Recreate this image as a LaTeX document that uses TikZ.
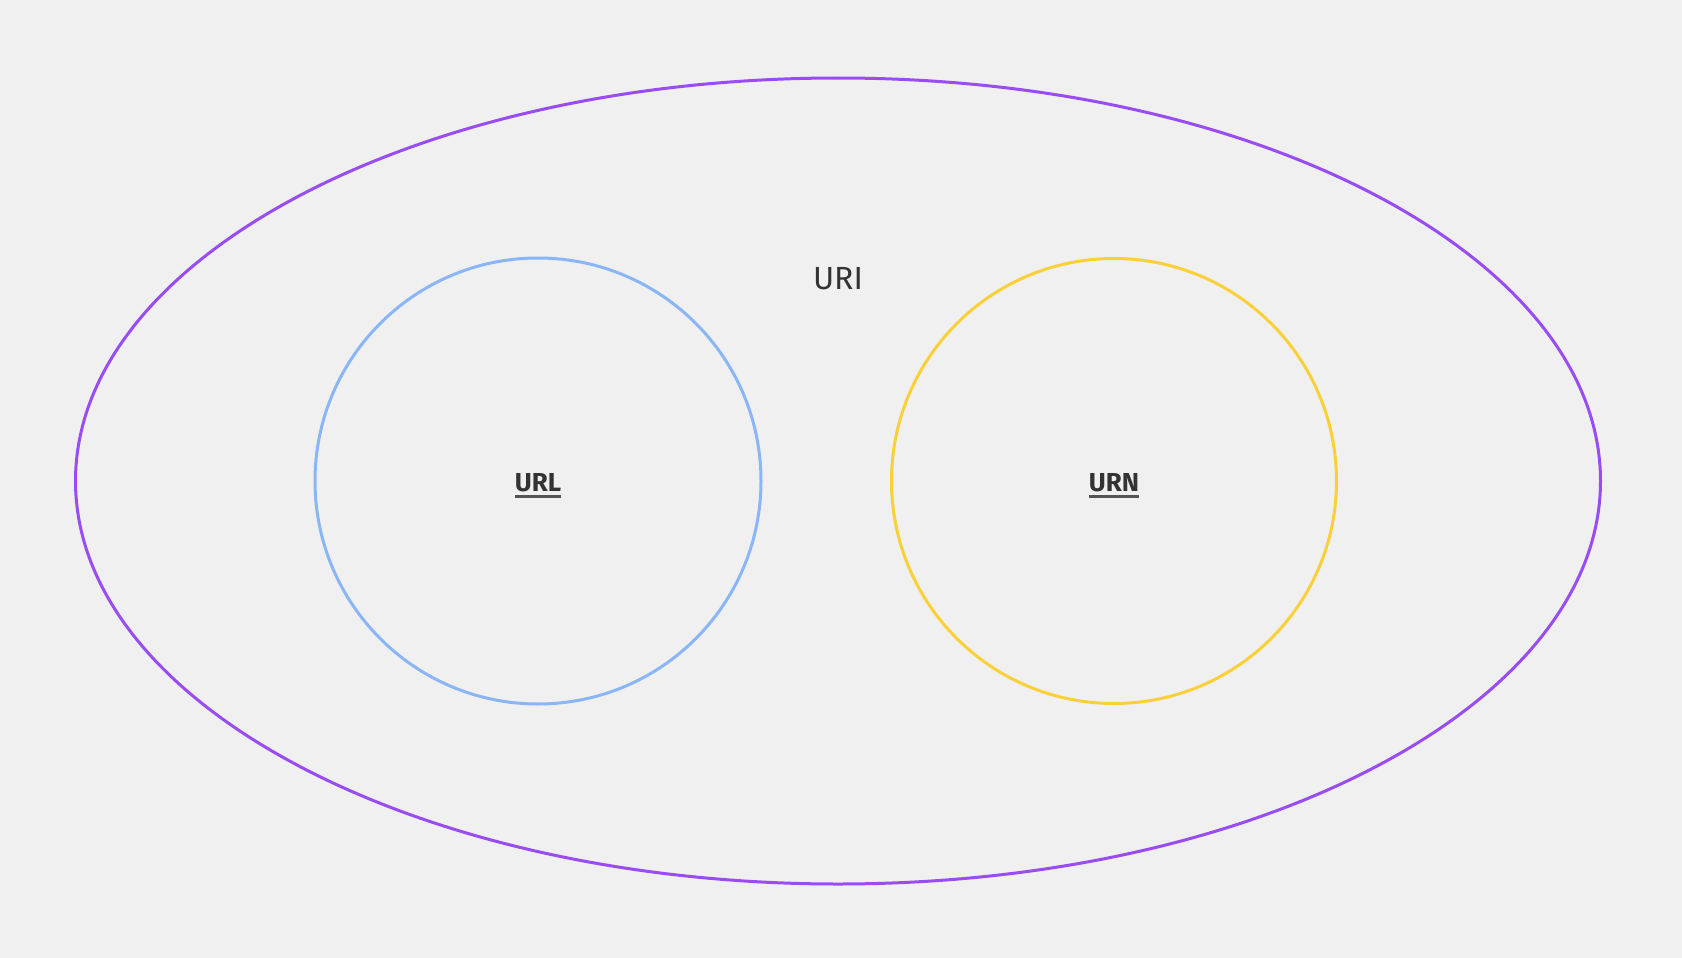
\documentclass[tikz,border=0pt]{standalone}
\usepackage{fontspec}
\setmainfont{Fira Sans}
\usepackage{tikz}
\usetikzlibrary{shapes.geometric, positioning, calc}
\definecolor{bgray}{RGB}{240, 240, 240}
\definecolor{uripurple}{RGB}{152, 76, 242}
\definecolor{urlblue}{RGB}{138, 182, 248}
\definecolor{urnyellow}{RGB}{250, 208, 56}
\definecolor{textdark}{RGB}{51, 51, 51}
\definecolor{linegray}{RGB}{85, 85, 85}

\begin{document}
\begin{tikzpicture}[
  x=1pt, y=-1pt,
  set/.style={draw, line width=3pt, inner sep=0pt},
  setname/.style={inner sep=0pt, text=textdark, font=\fontsize{26}{28}\selectfont\bfseries},
  uline/.style={draw=linegray, line width=2.2pt}
]
  \fill[bgray] (0, 0) rectangle (1682, 958);
  \useasboundingbox (0, 0) rectangle (1682, 958);

  \node[set, ellipse, draw=uripurple, minimum width=1525pt, minimum height=806pt] (uri) at (838, 481) {};
  \node[inner sep=0pt, text=textdark, font=\fontsize{32}{34}\selectfont] (urilabel) at (838, 279) {URI};

  \node[set, circle, draw=urlblue, minimum size=446pt] (url) at (538, 481) {};
  \node[set, circle, draw=urnyellow, minimum size=445pt] (urn) at (1114, 481) {};

  \node[setname, anchor=base] (urltext) at (538, 491) {URL};
  \node[setname, anchor=base] (urntext) at (1114, 491) {URN};

  \draw[uline] ([yshift=-5.5pt]urltext.base west) -- ([yshift=-5.5pt]urltext.base east);
  \draw[uline] ([yshift=-5.5pt]urntext.base west) -- ([yshift=-5.5pt]urntext.base east);
\end{tikzpicture}
\end{document}
